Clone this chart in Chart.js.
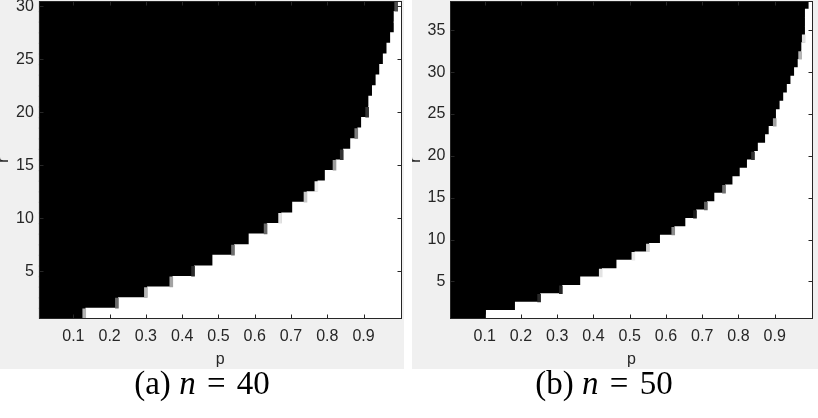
<!DOCTYPE html>
<html>
<head>
<meta charset="utf-8">
<script src="https://cdn.jsdelivr.net/npm/chart.js@4.4.1/dist/chart.umd.min.js"></script>
<style>
  html, body { margin: 0; padding: 0; background: #fff; }
  body { width: 818px; height: 418px; position: relative; overflow: hidden; }
  .panel { position: absolute; top: 0; height: 369px; background: #f0f0f0; }
  .caption {
    position: absolute; top: 365px; width: 300px; text-align: center; white-space: nowrap;
    font-family: "Liberation Serif", "Times New Roman", serif; font-size: 33px; color: #000;
  }
  .caption .eq { margin: 0 3px; }
</style>
</head>
<body>
<div class="panel" style="left:0;width:404px"><canvas id="chartA" width="404" height="369"></canvas></div>
<div class="panel" style="left:412px;width:406px"><canvas id="chartB" width="406" height="369"></canvas></div>
<div class="caption" style="left:52px">(a) <i>n</i> <span class="eq">=</span> 40</div>
<div class="caption" style="left:454px">(b) <i>n</i> <span class="eq">=</span> 50</div>

<script>
// p grid runs 0.01 .. 1.00, one cell per 0.01
const pFirst = 0.01;
const pLast = 1.0;
const xTicks = [0.1, 0.2, 0.3, 0.4, 0.5, 0.6, 0.7, 0.8, 0.9];

// (a) n = 40 : for every r, the first p that is fully recovered (white)
const rowsA = [1, 2, 3, 4, 5, 6, 7, 8, 9, 10, 11, 12, 13, 14, 15, 16, 17, 18, 19, 20,
  21, 22, 23, 24, 25, 26, 27, 28, 29, 30];
const whiteStartA = [0.14, 0.23, 0.31, 0.38, 0.44, 0.49, 0.55, 0.59, 0.64, 0.68, 0.71, 0.75,
  0.78, 0.80, 0.83, 0.85, 0.87, 0.89, 0.90, 0.92, 0.92, 0.93, 0.94, 0.95, 0.96, 0.97,
  0.98, 0.99, 0.99, 1.00];
// partial-recovery cells on the boundary
const grayRowsA = [1, 2, 3, 4, 5, 7, 9, 10, 12, 13, 15, 16, 18, 20, 30];
const grayPA = [0.13, 0.22, 0.30, 0.37, 0.43, 0.54, 0.63, 0.67, 0.74, 0.77, 0.82, 0.84, 0.88, 0.91, 0.99];
const grayRateA = [0.70, 0.42, 0.71, 0.64, 0.17, 0.43, 0.41, 0.89, 0.78, 0.93, 0.61, 0.20, 0.49, 0.20, 0.31];
const yTicksA = [5, 10, 15, 20, 25, 30];

// (b) n = 50
const rowsB = [1, 2, 3, 4, 5, 6, 7, 8, 9, 10, 11, 12, 13, 14, 15, 16, 17, 18, 19, 20,
  21, 22, 23, 24, 25, 26, 27, 28, 29, 30, 31, 32, 33, 34, 35, 36, 37, 38];
const whiteStartB = [0.11, 0.19, 0.26, 0.32, 0.37, 0.43, 0.47, 0.52, 0.56, 0.59, 0.63, 0.66,
  0.69, 0.72, 0.74, 0.77, 0.79, 0.81, 0.83, 0.85, 0.86, 0.88, 0.89, 0.91, 0.91, 0.92,
  0.93, 0.94, 0.95, 0.96, 0.97, 0.98, 0.98, 0.99, 0.99, 0.99, 0.99, 1.00];
const grayRowsB = [3, 4, 6, 8, 9, 11, 13, 14, 16, 20, 24, 32, 34];
const grayPB = [0.25, 0.31, 0.42, 0.51, 0.55, 0.62, 0.68, 0.71, 0.76, 0.84, 0.90, 0.97, 0.98];
const grayRateB = [0.16, 0.14, 0.89, 0.91, 0.82, 0.55, 0.11, 0.38, 0.44, 0.20, 0.63, 0.71, 0.88];
const yTicksB = [5, 10, 15, 20, 25, 30, 35];

const half = 0.005;
const axisColor = "#262626";
const tickFont = { family: "Liberation Sans, Arial, sans-serif", size: 16 };

const toGray = (v) => {
  const c = Math.round(v * 255);
  return `rgb(${c},${c},${c})`;
};

// MATLAB style box with inward ticks on all four sides
const boxPlugin = {
  id: "box",
  afterDatasetsDraw(chart) {
    const { ctx, chartArea: a, scales } = chart;
    const L = Math.round(a.left) + 0.5, R = Math.round(a.right) - 0.5;
    const T = Math.round(a.top) + 0.5, B = Math.round(a.bottom) - 0.5;
    ctx.save();
    ctx.strokeStyle = axisColor;
    ctx.lineWidth = 1;
    ctx.beginPath();
    scales.x.ticks.forEach((t) => {
      const px = Math.round(scales.x.getPixelForValue(t.value)) + 0.5;
      ctx.moveTo(px, B); ctx.lineTo(px, B - 4);
      ctx.moveTo(px, T); ctx.lineTo(px, T + 4);
    });
    scales.y.ticks.forEach((t) => {
      const py = Math.round(scales.y.getPixelForValue(t.value)) + 0.5;
      ctx.moveTo(L, py); ctx.lineTo(L + 4, py);
      ctx.moveTo(R, py); ctx.lineTo(R - 4, py);
    });
    ctx.stroke();
    ctx.strokeRect(L, T, R - L, B - T);
    ctx.restore();
  },
};

function makePanel(id, rows, whiteStart, grayRows, grayP, grayRate, yTicks, yWidth, padRight) {
  return new Chart(document.getElementById(id), {
    type: "bar",
    data: {
      datasets: [
        {
          // partial recovery, drawn on top
          order: 0,
          data: grayRows.map((r, i) => ({ y: r, x: [grayP[i] - half, grayP[i] + half] })),
          backgroundColor: grayRate.map(toGray),
          inflateAmount: 0,
        },
        {
          // recovered region
          order: 1,
          data: rows.map((r, i) => ({ y: r, x: [whiteStart[i] - half, pLast + half] })),
          backgroundColor: "#fff",
        },
        {
          // failed region
          order: 2,
          data: rows.map((r, i) => ({ y: r, x: [pFirst - half, whiteStart[i] - half] })),
          backgroundColor: "#000",
        },
      ],
    },
    options: {
      indexAxis: "y",
      responsive: false,
      animation: false,
      events: [],
      layout: { padding: { left: 0, top: 1, right: padRight, bottom: 0 } },
      datasets: {
        bar: { grouped: false, barPercentage: 1, categoryPercentage: 1, borderWidth: 0,
          inflateAmount: 0.6 },
      },
      plugins: { legend: { display: false }, tooltip: { enabled: false } },
      scales: {
        x: {
          type: "linear",
          min: pFirst - half,
          max: pLast + half,
          grid: { display: false, drawTicks: false },
          border: { display: false },
          ticks: { color: axisColor, font: tickFont, padding: 8, maxRotation: 0,
            callback: (v) => v.toFixed(1) },
          title: { display: true, text: "p", color: axisColor, font: tickFont,
            padding: { top: 0, bottom: 0 } },
          afterBuildTicks: (s) => { s.ticks = xTicks.map((v) => ({ value: v })); },
          afterFit: (s) => { s.height = 50; s.paddingLeft = 0; s.paddingRight = 0; },
        },
        y: {
          type: "linear",
          offset: false,
          min: rows[0] - 0.5,
          max: rows[rows.length - 1] + 0.5,
          grid: { display: false, drawTicks: false },
          border: { display: false },
          ticks: { color: axisColor, font: tickFont, padding: 5,
            callback: (v) => String(v) },
          title: { display: true, text: "r", color: axisColor, font: tickFont,
            padding: { top: -6, bottom: 0 } },
          afterBuildTicks: (s) => { s.ticks = yTicks.map((v) => ({ value: v })); },
          afterFit: (s) => { s.width = yWidth; s.paddingTop = 0; s.paddingBottom = 0; },
        },
      },
    },
    plugins: [boxPlugin],
  });
}

makePanel("chartA", rowsA, whiteStartA, grayRowsA, grayPA, grayRateA, yTicksA, 38.9, 2.4);
makePanel("chartB", rowsB, whiteStartB, grayRowsB, grayPB, grayRateB, yTicksB, 38.3, 5.2);
</script>
</body>
</html>
